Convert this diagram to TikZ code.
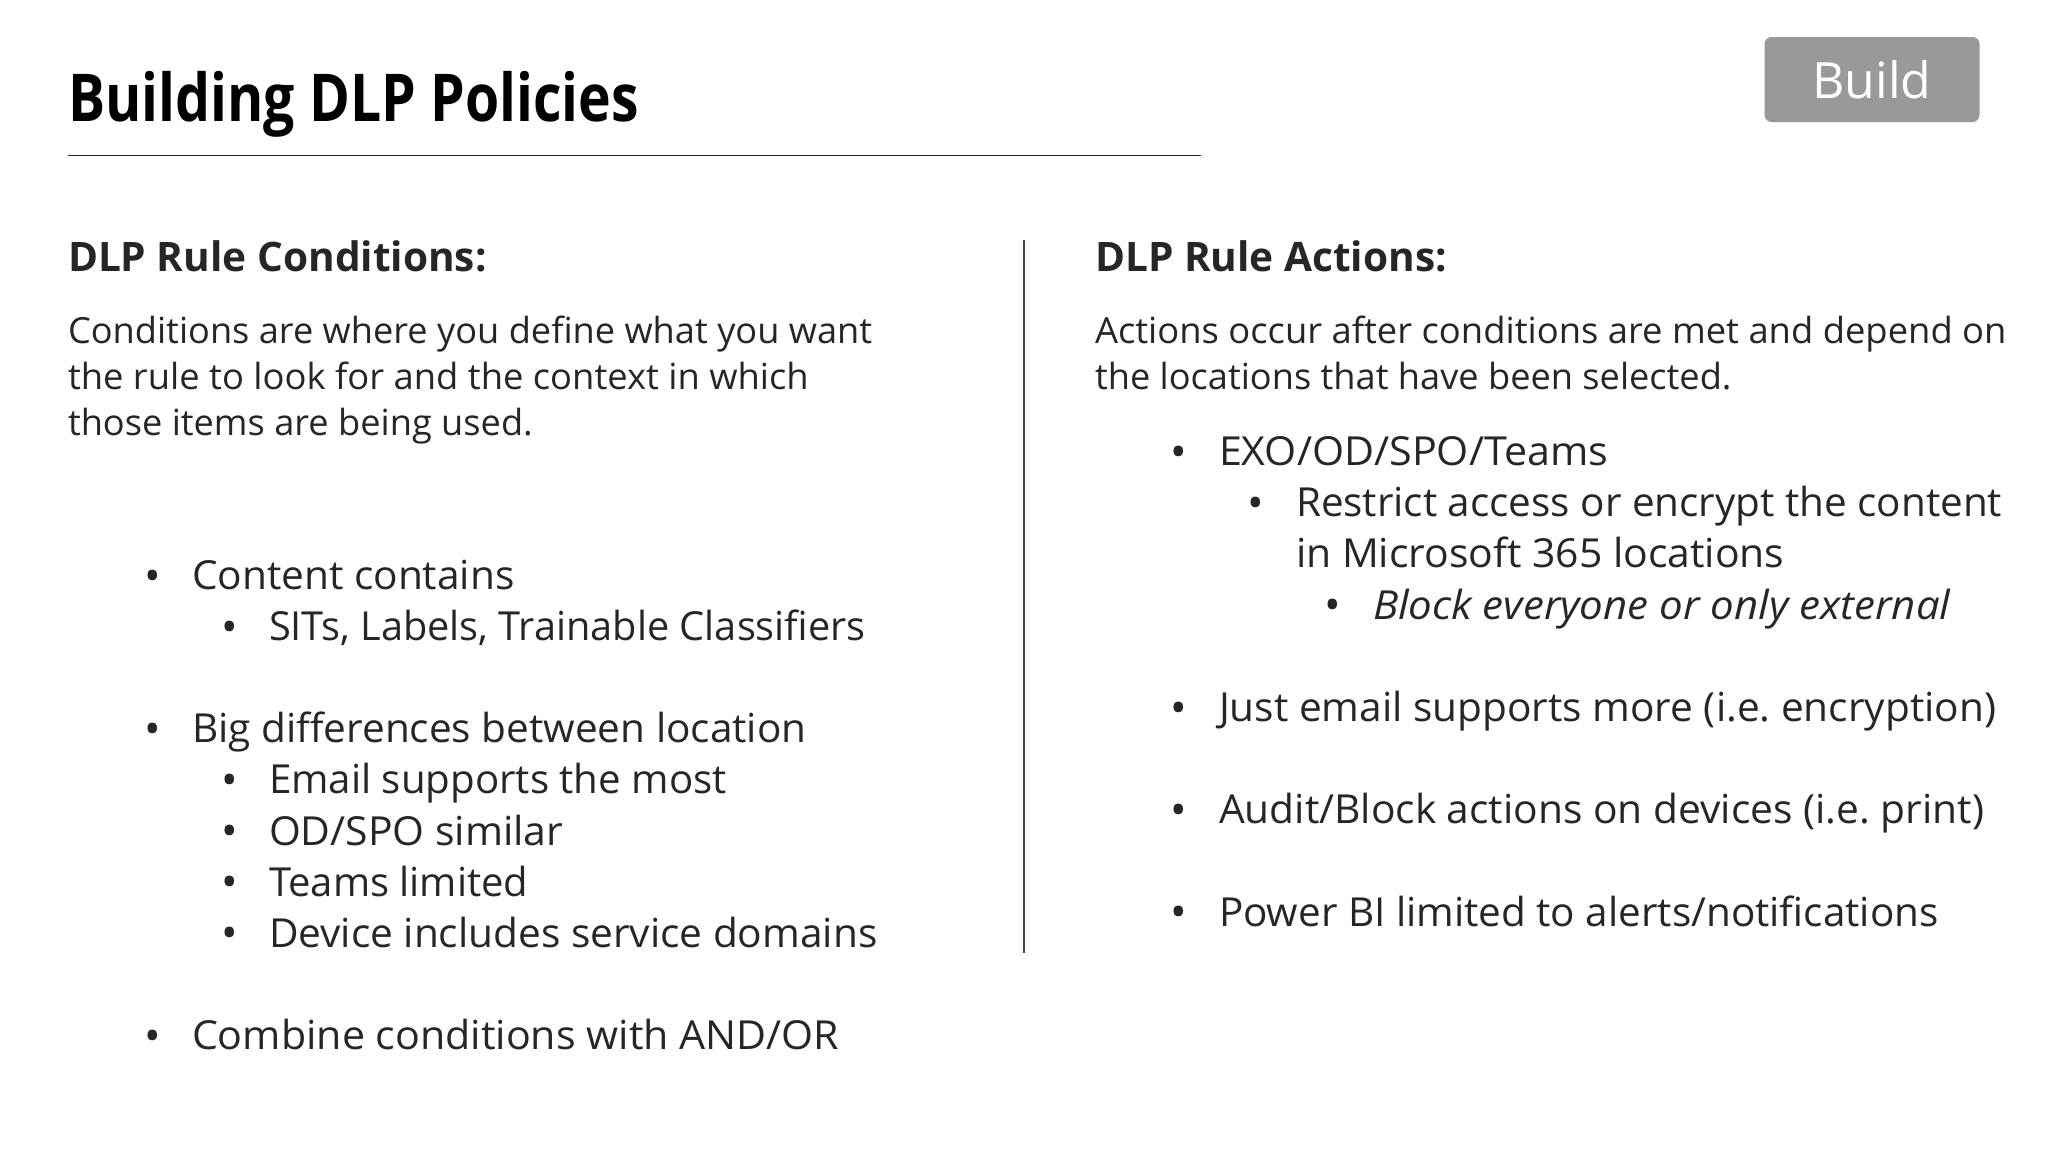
\documentclass[tikz,border=0pt]{standalone}
\usepackage{fontspec}
\setmainfont{Open Sans}
\frenchspacing
\definecolor{ink}{HTML}{262626}
\tikzset{x=0.5pt,y=-0.5pt,
 txt/.style={anchor=base west,inner sep=0pt,outer sep=0pt,text=ink,font=\fontsize{#1}{#1}\selectfont},
 txt/.default=20,
 dot/.style={anchor=base,inner sep=0pt,text=ink,font=\fontsize{22}{22}\selectfont}}
\begin{document}
\begin{tikzpicture}
\useasboundingbox (0,0) rectangle (2048,1152);
\fill[white] (0,0) rectangle (2048,1152);
\node[anchor=base west,inner sep=0pt,text=black,font=\fontsize{33}{33}\selectfont\bfseries] (title) at (68,121) {\scalebox{0.838}[1]{Building DLP Policies}};
\coordinate (ra) at (68,155.5);\coordinate (rb) at (1201,155.5);
\draw[line width=0.65pt,color=ink] (ra)--(rb);
\coordinate (va) at (1024,240);\coordinate (vb) at (1024,953);
\draw[line width=0.65pt,color=ink!85] (va)--(vb);
\node[fill=black!40,text=white,rounded corners=3.5pt,minimum width=107.5pt,minimum height=42.5pt,inner sep=0pt,font=\fontsize{25}{25}\selectfont] (build) at (1872,79.5) {Build};
\node[txt=20,font=\fontsize{20.3}{20.3}\selectfont\bfseries] (h1) at (68,271) {DLP Rule Conditions:};
\node[txt=20,font=\fontsize{20.3}{20.3}\selectfont\bfseries] (h2) at (1095,271) {DLP Rule Actions:};
\foreach \t/\y/\s in {Conditions are where you define what you want/343.5/1.005,the rule to look for and the context in which/389.5/1.01,those items are being used./435.5/1.005}
 \node[txt=18] at (68,\y) {\scalebox{\s}[1]{\t}};
\foreach \t/\y/\s in {Actions occur after conditions are met and depend on/343.5/1.01,the locations that have been selected./389.5/1.005}
 \node[txt=18] at (1095,\y) {\scalebox{\s}[1]{\t}};
\foreach \x/\t/\y/\s in {192/Content contains/589.5/1.016,269/{SITs, Labels, Trainable Classifiers}/640.5/0.993,192/Big differences between location/742.5/1.013,269/Email supports the most/793.5/1.006,269/OD\slash SPO similar/845/1.023,269/Teams limited/896/1.0,269/Device includes service domains/947/1.015,192/Combine conditions with AND\slash OR/1049.5/1.029,
 1219/EXO\slash OD\slash SPO\slash Teams/465.5/1.031,1296/Restrict access or encrypt the content/516.5/1.011,1296/in Microsoft 365 locations/567.5/1.022,1219/Just email supports more (i.e. encryption)/721.5/1.015,1219/Audit\slash Block actions on devices (i.e. print)/823.5/1.018,1219/Power BI limited to alerts\slash notifications/926/1.011}
 \node[txt=20] at (\x,\y) {\scalebox{\s}[1]{\t}};
\node[txt=20,font=\fontsize{20}{20}\selectfont\itshape] at (1373,619) {\scalebox{1.05}[1]{Block everyone or only external}};
\foreach \x/\y in {153/591,230/642,153/744,230/795,230/846.5,230/897.5,230/948.5,153/1051,1179/467,1256/518,1333/620.5,1179/723,1179/825,1179/927.5}
 \node[dot] at (\x,\y) {•};
\end{tikzpicture}
\end{document}
